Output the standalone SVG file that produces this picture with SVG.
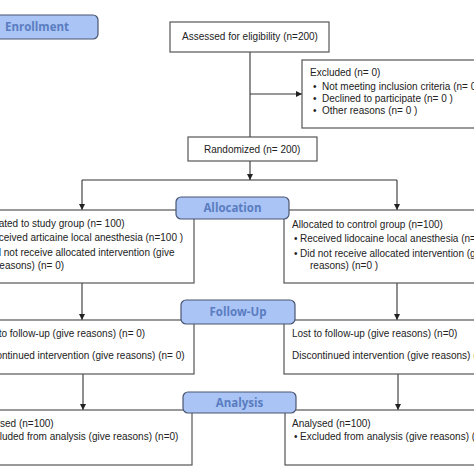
<svg xmlns="http://www.w3.org/2000/svg" width="474" height="474" viewBox="0 0 474 474">
<style>
.box{fill:#fff;stroke:#555;stroke-width:1.2}
.lbl{fill:#a9c4f5;stroke:#4a5570;stroke-width:1.2}
.lt{font-family:"Open Sans",sans-serif;font-weight:bold;font-size:11.5px;fill:#5a7cc0;text-anchor:middle}
.t{font-family:"Liberation Sans",Arial,sans-serif;font-size:10px;fill:#222}
.ln{fill:none;stroke:#333;stroke-width:1.1}
</style>
<defs>
<marker id="ah" markerWidth="6" markerHeight="6" refX="6" refY="3" orient="auto" markerUnits="userSpaceOnUse">
<path d="M0,0 L6,3 L0,6 Z" fill="#222"/>
</marker>
</defs>
<rect width="474" height="474" fill="#fff"/>
<g id="connectors">
<path class="ln" d="M250,52 V137"/>
<path class="ln" d="M250,94 H302" marker-end="url(#ah)"/>
<path class="ln" d="M250,161 V180" marker-end="url(#ah)"/>
<path class="ln" d="M82,180 H397"/>
<path class="ln" d="M82,180 V210" marker-end="url(#ah)"/>
<path class="ln" d="M397,180 V210" marker-end="url(#ah)"/>
<path class="ln" d="M82,283 V320" marker-end="url(#ah)"/>
<path class="ln" d="M397,283 V320" marker-end="url(#ah)"/>
<path class="ln" d="M83,374 V410" marker-end="url(#ah)"/>
<path class="ln" d="M398,374 V410" marker-end="url(#ah)"/>
</g>
<g id="assessed">
<rect class="box" x="170" y="22" width="159" height="30"/>
<text class="t" x="182" y="39.5">Assessed for eligibility (n=200)</text>
</g>
<g id="excluded">
<rect class="box" x="302" y="60" width="200" height="68"/>
<text class="t" x="310" y="76">Excluded (n= 0)</text>
<text class="t" x="313" y="89.5">•</text><text class="t" x="322" y="89.5">Not meeting inclusion criteria (n= 0 )</text>
<text class="t" x="313" y="102">•</text><text class="t" x="322" y="102">Declined to participate (n= 0 )</text>
<text class="t" x="313" y="114">•</text><text class="t" x="322" y="114">Other reasons (n= 0 )</text>
</g>
<g id="randomized">
<rect class="box" x="188" y="137" width="129" height="24"/>
<text class="t" x="204" y="153">Randomized (n= 200)</text>
</g>
<g id="alloc-study">
<rect class="box" x="-30" y="210" width="224" height="73"/>
<text class="t" x="-23" y="227">Allocated to study group (n= 100)</text>
<text class="t" x="-21" y="241">•</text><text class="t" x="-14" y="241">Received articaine local anesthesia (n=100 )</text>
<text class="t" x="-21" y="255.5">•</text><text class="t" x="-14" y="255.5">Did not receive allocated intervention (give</text>
<text class="t" x="-4" y="268.5">reasons) (n=  0)</text>
</g>
<g id="alloc-control">
<rect class="box" x="284" y="210" width="224" height="73"/>
<text class="t" x="292" y="227.5">Allocated to control group (n=100)</text>
<text class="t" x="294" y="241.5">•</text><text class="t" x="300" y="241.5">Received lidocaine local anesthesia (n=100 )</text>
<text class="t" x="294" y="256.5">•</text><text class="t" x="300" y="256.5">Did not receive allocated intervention (give</text>
<text class="t" x="310" y="268.5">reasons) (n=0  )</text>
</g>
<g id="fu-study">
<rect class="box" x="-30" y="320" width="224" height="54"/>
<text class="t" x="-23" y="336.5">Lost to follow-up (give reasons) (n= 0)</text>
<text class="t" x="-23" y="358.5">Discontinued intervention (give reasons) (n= 0)</text>
</g>
<g id="fu-control">
<rect class="box" x="284" y="320" width="224" height="54"/>
<text class="t" x="292" y="336.5">Lost to follow-up (give reasons) (n=0)</text>
<text class="t" x="292" y="358.5">Discontinued intervention (give reasons) (n=0)</text>
</g>
<g id="an-study">
<rect class="box" x="-30" y="410" width="222" height="55"/>
<text class="t" x="-25" y="426.5">Analysed (n=100)</text>
<text class="t" x="-23" y="439.5">•</text><text class="t" x="-17" y="439.5">Excluded from analysis (give reasons) (n=0)</text>
</g>
<g id="an-control">
<rect class="box" x="285" y="410" width="224" height="55"/>
<text class="t" x="292" y="426.5">Analysed (n=100)</text>
<text class="t" x="294" y="439.5">•</text><text class="t" x="300" y="439.5">Excluded from analysis (give reasons) (n=0)</text>
</g>
<g id="enrollment">
<rect class="lbl" x="-20" y="15" width="118" height="24" rx="5"/>
<text class="lt" x="37" y="31">Enrollment</text>
</g>
<g id="allocation">
<rect class="lbl" x="176" y="197" width="113" height="22" rx="5"/>
<text class="lt" x="232.5" y="212">Allocation</text>
</g>
<g id="followup">
<rect class="lbl" x="181" y="300" width="114" height="24" rx="5"/>
<text class="lt" x="238" y="316">Follow-Up</text>
</g>
<g id="analysis">
<rect class="lbl" x="183" y="392" width="113" height="21" rx="5"/>
<text class="lt" x="239.5" y="406.5">Analysis</text>
</g>
</svg>
